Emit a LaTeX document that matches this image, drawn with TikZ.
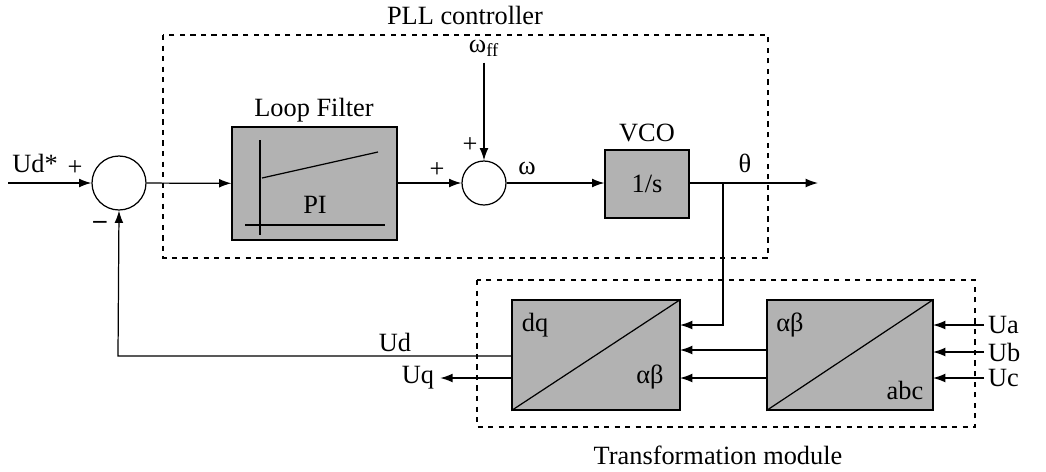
\documentclass[tikz,border=0pt]{standalone}
\usepackage{fontspec}
\setmainfont{Liberation Serif}
\usetikzlibrary{arrows.meta}
\begin{document}
\begin{tikzpicture}[x=0.02cm,y=-0.02cm,
  blk/.style={draw,fill=gray!60,line width=0.7pt,inner sep=0},
  sum/.style={draw,circle,fill=white,line width=0.7pt,inner sep=0},
  dbox/.style={draw,dashed,line width=0.7pt},
  ar/.style={-{Latex[length=7pt,width=5pt]},line width=0.7pt},
  ln/.style={line width=0.7pt},
  lab/.style={font=\fontsize{15}{17}\selectfont}]
\useasboundingbox (0,0) rectangle (1046,471);
\draw[dbox] (163,35) rectangle (768,258);
\node[lab] (t1) at (465,15) {PLL controller};
\draw[dbox] (477,280) rectangle (975,427);
\node[lab] (t2) at (718,455) {Transformation module};
\node[sum,minimum size=1.08cm] (s1) at (119,183) {};
\node[lab] (ud) at (35,163) {Ud*};
\node[lab] at (75,168) {+};
\node[lab] at (100,225) {\textbf{--}};
\coordinate (in) at (8,183);
\draw[ar] (in) -- (s1);
\node[blk,minimum width=3.3cm,minimum height=2.26cm] (lf) at (314.5,183.5) {};
\node[lab] at (314,110) {Loop Filter};
\draw[ln] (260,140) -- (260,235);
\draw[ln] (245,225) -- (385,225);
\draw[ln] (262,178) -- (378,152);
\node[lab] at (315,205) {PI};
\draw[ar] (s1) -- (lf);
\node[sum,minimum size=0.88cm] (s2) at (484,183) {};
\draw[ar] (lf.east|-s2) -- (s2);
\node[lab] at (437,170) {+};
\node[lab] at (470,145) {+};
\node[lab] (wff) at (484,48) {ω\textsubscript{ff}};
\draw[ar] (wff) -- (s2);
\node[blk,minimum width=1.68cm,minimum height=1.36cm,lab] (vco) at (647,184) {1/s};
\node[lab] at (647,133) {VCO};
\node[lab] at (527,168) {ω};
\draw[ar] (s2) -- (vco.west|-s2);
\coordinate (out) at (818,183);
\draw[ar] (vco.east|-s2) -- (out);
\node[lab] at (745,163) {θ};
\node[blk,minimum width=3.36cm,minimum height=2.2cm] (dq) at (596,355) {};
\draw[ln] (dq.south west) -- (dq.north east);
\node[lab] at (535,325) {dq};
\node[lab] at (650,377) {αβ};
\node[blk,minimum width=3.32cm,minimum height=2.2cm] (abc) at (850,355) {};
\draw[ln] (abc.south west) -- (abc.north east);
\node[lab] at (790,325) {αβ};
\node[lab] at (905,390) {abc};
\coordinate (tap) at (723,183);
\draw[ar] (tap) -- (723,325) -- (680,325);
\draw[ar] (767,350) -- (680,350);
\draw[ar] (767,378) -- (680,378);
\foreach \n/\y in {Ua/325,Ub/352,Uc/378}{
  \node[lab,anchor=west,inner sep=1pt] (\n) at (986,\y) {\n};
  \coordinate (\n e) at (984,\y);
  \draw[ar] (\n e) -- (933,\y);
}
\node[lab] (uq) at (418,378) {Uq};
\draw[ar] (512,378) -- (uq.east);
\draw[ar] (512,356) -- (118,356) -- (s1.south);
\node[lab] at (395,342) {Ud};
\end{tikzpicture}
\end{document}
